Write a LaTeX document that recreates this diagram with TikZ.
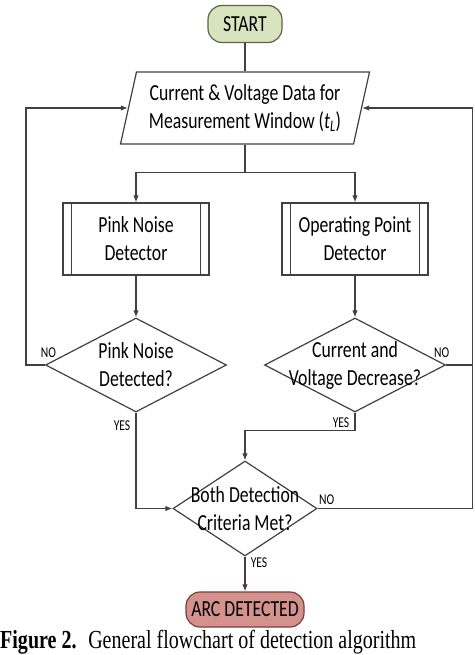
\documentclass[tikz,border=0pt]{standalone}
\usepackage{fontspec}
\setmainfont{Carlito}[FakeStretch=0.77]
\newfontfamily\capfont{Liberation Serif}[FakeStretch=0.77]
\usetikzlibrary{shapes.geometric,arrows.meta,positioning}

\definecolor{startfill}{HTML}{D7E4BD}
\definecolor{startdraw}{HTML}{5B6346}
\definecolor{arcfill}{HTML}{D4918D}
\definecolor{arcdraw}{HTML}{7B3E3C}
\definecolor{linegray}{HTML}{404040}

\newcommand*{\zw}[1]{\makebox[0pt]{#1}}

\tikzset{
    flow/.style={draw=linegray, line width=1.2pt},
    arrow/.style={flow, -{Latex[length=7pt,width=5.5pt]}},
    boxtext/.style={font=\fontsize{23}{28}\selectfont, align=center, text=black},
    terminal/.style={boxtext, rectangle, rounded corners=14pt, line width=1.2pt, inner sep=0pt},
    io/.style={boxtext, flow, trapezium, trapezium left angle=74, trapezium right angle=106,
        trapezium stretches body=true, minimum width=249, minimum height=72, inner sep=4pt},
    process/.style={boxtext, flow, rectangle, minimum width=146, minimum height=72},
    decision/.style={boxtext, flow, diamond, inner sep=0pt, minimum width=181, minimum height=94},
    lbl/.style={font=\fontsize{15}{18}\selectfont, inner sep=0pt, text=black}
}

\begin{document}
\begin{tikzpicture}[x=1pt, y=-1pt]

    \useasboundingbox (0,0) rectangle (474,655);

    % boxes
    \node[terminal, fill=startfill, draw=startdraw, minimum width=74, minimum height=37] (start) at (245,24) {START};
    \node[io] (data) at (245,108) {Current \& Voltage Data for\\Measurement Window (\textit{t}\textsubscript{\textit{L}})};

    \node[process] (pnd) at (136,239) {Pink Noise\\Detector};
    \node[process] (opd) at (355,239) {Operating Point\\Detector};
    \foreach \n in {pnd,opd}
        \draw[flow] ([xshift=9pt]\n.north west) -- ([xshift=9pt]\n.south west)
            ([xshift=-9pt]\n.north east) -- ([xshift=-9pt]\n.south east);

    \node[decision] (pnq) at (136,365) {\zw{Pink Noise}\\\zw{Detected?}};
    \node[decision] (cvq) at (355,365) {\zw{Current and}\\\zw{Voltage Decrease?}};
    \node[decision, minimum width=144, minimum height=95] (bdc) at (245,508.5) {\zw{Both Detection}\\\zw{Criteria Met?}};

    \node[terminal, fill=arcfill, draw=arcdraw, minimum width=118, minimum height=35] (arc) at (245,609.5) {ARC DETECTED};

    % connectors
    \draw[flow] (start) -- (data);
    \draw[flow] (data.south) -- ++(0,28) coordinate (split);
    \draw[arrow] (split) -| (pnd.north);
    \draw[arrow] (split) -| (opd.north);
    \draw[arrow] (pnd) -- (pnq);
    \draw[arrow] (opd) -- (cvq);

    % loops back
    \draw[arrow] (pnq.west) -- ++(-19,0) |- (data.west);
    \coordinate (loopR) at (472.5,365);
    \draw[flow] (cvq.east) -- (loopR);
    \draw[arrow] (bdc.east) -| (loopR) |- (data.east);

    \draw[arrow] (pnq.south) |- (bdc.west);
    \draw[arrow] (cvq.south) -- ++(0,18) -| (bdc.north);
    \draw[arrow] (bdc) -- (arc);

    % yes / no
    \node[lbl] (noPn) at ([shift={(3.5,-12)}]pnq.west) {NO};
    \node[lbl] (noCv) at ([shift={(-4.5,-12)}]cvq.east) {NO};
    \node[lbl] (noBd) at ([shift={(9,-8.5)}]bdc.east) {NO};
    \node[lbl] (yesPn) at ([shift={(-14,13)}]pnq.south) {YES};
    \node[lbl] (yesCv) at ([shift={(-14,10)}]cvq.south) {YES};
    \node[lbl] (yesBd) at ([shift={(14,6)}]bdc.south) {YES};

    \node[anchor=base west, font=\capfont\fontsize{26}{30}\selectfont, inner sep=0pt] (caption) at (0,648)
        {\textbf{Figure 2.}\hspace{0.45em}General flowchart of detection algorithm};

\end{tikzpicture}
\end{document}
